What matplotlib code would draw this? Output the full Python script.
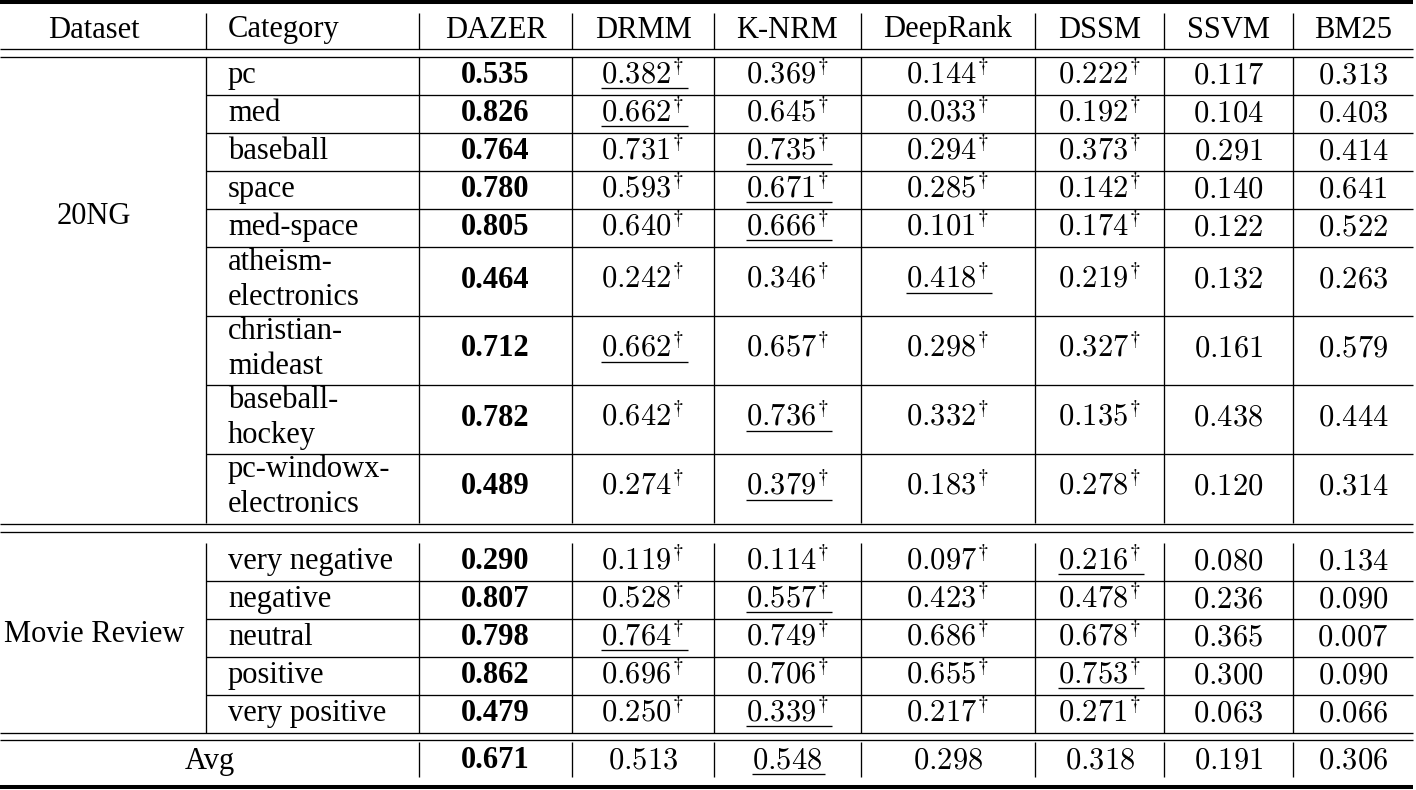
import matplotlib
matplotlib.use("Agg")
import matplotlib.pyplot as plt

plt.rcParams['font.family'] = ['Liberation Serif', 'DejaVu Serif']
plt.rcParams['mathtext.fontset'] = 'cm'

# ---- table data ----
methods = ["DAZER", "DRMM", "K-NRM", "DeepRank", "DSSM", "SSVM", "BM25"]

ng_categories = ["pc", "med", "baseball", "space", "med-space",
                 "atheism-\nelectronics", "christian-\nmideast",
                 "baseball-\nhockey", "pc-windowx-\nelectronics"]
ng_values = [
    [0.535, 0.382, 0.369, 0.144, 0.222, 0.117, 0.313],
    [0.826, 0.662, 0.645, 0.033, 0.192, 0.104, 0.403],
    [0.764, 0.731, 0.735, 0.294, 0.373, 0.291, 0.414],
    [0.780, 0.593, 0.671, 0.285, 0.142, 0.140, 0.641],
    [0.805, 0.640, 0.666, 0.101, 0.174, 0.122, 0.522],
    [0.464, 0.242, 0.346, 0.418, 0.219, 0.132, 0.263],
    [0.712, 0.662, 0.657, 0.298, 0.327, 0.161, 0.579],
    [0.782, 0.642, 0.736, 0.332, 0.135, 0.438, 0.444],
    [0.489, 0.274, 0.379, 0.183, 0.278, 0.120, 0.314],
]
ng_second = [1, 1, 2, 2, 2, 3, 1, 2, 2]

mr_categories = ["very negative", "negative", "neutral", "positive", "very positive"]
mr_values = [
    [0.290, 0.119, 0.114, 0.097, 0.216, 0.080, 0.134],
    [0.807, 0.528, 0.557, 0.423, 0.478, 0.236, 0.090],
    [0.798, 0.764, 0.749, 0.686, 0.678, 0.365, 0.007],
    [0.862, 0.696, 0.706, 0.655, 0.753, 0.300, 0.090],
    [0.479, 0.250, 0.339, 0.217, 0.271, 0.063, 0.066],
]
mr_second = [4, 2, 1, 4, 2]

avg_values = [0.671, 0.513, 0.548, 0.298, 0.318, 0.191, 0.306]
avg_second = 2

dagger_cols = [1, 2, 3, 4]   # significance marks

# ---- layout (pixels) ----
W, H = 1416, 790
col_edges = [0, 206, 419, 572, 714, 860.5, 1035, 1164.3, 1292.7, 1413]
FS = 22
thin = 0.95
thick = 2.9

fig = plt.figure(figsize=(W / 100, H / 100), dpi=100)
ax = fig.add_axes([0, 0, 1, 1])
ax.set_xlim(0, W)
ax.set_ylim(H, 0)
ax.axis('off')

centers = [(col_edges[i] + col_edges[i + 1]) / 2 for i in range(len(col_edges) - 1)]
inner = col_edges[1:-1]
underlines = []


def fmt(v, col, dag):
    if col == 0:
        return f"{v:.3f}"
    if dag and col in dagger_cols:
        return rf"${v:.3f}^{{\!\dagger}}$"
    return rf"${v:.3f}$"


def put_numbers(vals, y, second, dag=True):
    for j, v in enumerate(vals):
        col = j + 2
        t = ax.text(centers[col], y, fmt(v, j, dag), ha='center', va='baseline',
                    fontsize=FS, fontweight='bold' if j == 0 else 'normal')
        if j == second:
            underlines.append((t, y + 5))


# top rule and header
ax.hlines(1.8, 0, 1413, color='black', lw=thick)
ax.vlines(inner, 13, 48.5, color='black', lw=thin)
ax.text(94, 37.5, "Dataset", ha='center', va='baseline', fontsize=FS)
ax.text(228, 37.5, "Category", ha='left', va='baseline', fontsize=FS)
for j, m in enumerate(methods):
    ax.text(centers[j + 2], 37.5, m, ha='center', va='baseline', fontsize=FS)
ax.hlines([49, 56.5], 0, 1413, color='black', lw=thin)


def section(top, cats, vals, second):
    y = top
    bottoms = []
    for cat, row, sec in zip(cats, vals, second):
        lines = cat.split("\n")
        h = 38 if len(lines) == 1 else 69
        bottom = y + h
        if len(lines) == 1:
            ax.text(228, bottom - 11.5, cat, ha='left', va='baseline', fontsize=FS)
            put_numbers(row, bottom - 11.5, sec)
        else:
            ax.text(228, bottom - 45.6, lines[0], ha='left', va='baseline', fontsize=FS)
            ax.text(228, bottom - 10.6, lines[1], ha='left', va='baseline', fontsize=FS)
            put_numbers(row, bottom - 28, sec)
        bottoms.append(bottom)
        y = bottom
    ax.hlines(bottoms[:-1], 206, 1413, color='black', lw=thin)
    ax.vlines(inner, top, bottoms[-1], color='black', lw=thin)
    return bottoms[-1]


end1 = section(56.5, ng_categories, ng_values, ng_second)
ax.text(94, 224, "20NG", ha='center', va='baseline', fontsize=FS)
ax.hlines([end1 + 1.5, end1 + 9], 0, 1413, color='black', lw=thin)

end2 = section(end1 + 20, mr_categories, mr_values, mr_second)
ax.text(94, 642, "Movie Review", ha='center', va='baseline', fontsize=FS)
ax.hlines([end2, end2 + 7.5], 0, 1413, color='black', lw=thin)

# average row
ax.vlines(col_edges[2:-1], end2 + 9.5, end2 + 44.5, color='black', lw=thin)
ax.text((col_edges[0] + col_edges[2]) / 2, 768.5, "Avg", ha='center', va='baseline', fontsize=FS)
put_numbers(avg_values, 768.5, avg_second, dag=False)
ax.hlines(786.5, 0, 1413, color='black', lw=thick)

# underline the second best entries
fig.canvas.draw()
renderer = fig.canvas.get_renderer()
inv = ax.transData.inverted()
for t, yl in underlines:
    bb = t.get_window_extent(renderer)
    (x0, _), (x1, _) = inv.transform([(bb.x0, bb.y0), (bb.x1, bb.y1)])
    ax.hlines(yl, x0, x1 + 3, color='black', lw=thin)

fig.savefig("out.png", dpi=100)
